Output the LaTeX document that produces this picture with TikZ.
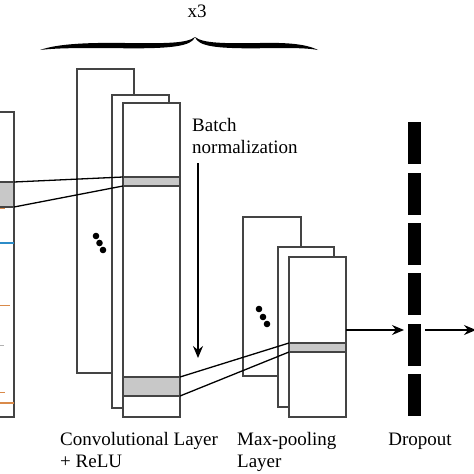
\documentclass[tikz,border=0pt]{standalone}
\usepackage{fontspec}
\setmainfont{Liberation Serif}
\usetikzlibrary{arrows.meta}
\definecolor{frame}{HTML}{444444}
\definecolor{band}{HTML}{C8C8C8}
\definecolor{sigorange}{HTML}{D98A4A}
\definecolor{sigblue}{HTML}{2C8CC8}
\tikzset{
  layerbox/.style={draw=frame, line width=1.4pt, fill=white, inner sep=0pt, outer sep=0pt, anchor=north west},
  bandbox/.style={draw=frame, line width=1.2pt, fill=band, inner sep=0pt, outer sep=0pt, anchor=north west},
  dropbar/.style={fill=black, draw=none, inner sep=0pt, outer sep=0pt, anchor=north west, minimum width=13pt, minimum height=42pt},
  link/.style={draw=black, line width=1.3pt},
  flow/.style={draw=black, line width=1.2pt, -{Stealth[length=12pt,width=10pt,inset=4pt]}},
  lbl/.style={font=\fontsize{19}{22}\selectfont, inner sep=0pt, align=left},
  dotmark/.style={fill=black, draw=none},
}
\begin{document}
\begin{tikzpicture}[x=1pt,y=-1pt]
\useasboundingbox (0,0) rectangle (474,474);
% input panel
\node[layerbox, minimum width=20pt, minimum height=305pt] (inp) at (-6,112) {};
\draw[sigorange, line width=1pt] (0,208) -- (5,208);
\draw[sigblue, line width=1.1pt] (0,243) -- (14,243);
\draw[sigorange, line width=1pt] (0,305) -- (10,305);
\draw[gray!60, line width=0.8pt] (0,345) -- (4,345);
\draw[sigorange, line width=1pt] (0,392) -- (5,392);
\draw[sigorange, line width=1.2pt] (0,403) -- (14,403);
\node[bandbox, minimum width=20pt, minimum height=25pt] (inband) at (-6,182) {};
% convolutional stack
\node[layerbox, minimum width=57pt, minimum height=304pt] (c1) at (77,69) {};
\node[layerbox, minimum width=57pt, minimum height=313pt] (c2) at (112,95) {};
\node[layerbox, minimum width=57pt, minimum height=314pt] (c3) at (123,103) {};
\node[bandbox, minimum width=57pt, minimum height=9pt] (cb1) at (123,177) {};
\node[bandbox, minimum width=57pt, minimum height=19pt] (cb2) at (123,377) {};
\fill[dotmark] (96,236) circle (3.3);
\fill[dotmark] (99.5,243) circle (3.3);
\fill[dotmark] (103,250) circle (3.3);
% max-pooling stack
\node[layerbox, minimum width=58pt, minimum height=159pt] (p1) at (243,217) {};
\node[layerbox, minimum width=56pt, minimum height=160pt] (p2) at (278,247) {};
\node[layerbox, minimum width=57pt, minimum height=160pt] (p3) at (289,257) {};
\node[bandbox, minimum width=57pt, minimum height=9pt] (pb) at (289,343) {};
\fill[dotmark] (259,309) circle (3.3);
\fill[dotmark] (263,317) circle (3.3);
\fill[dotmark] (267,324) circle (3.3);
% links
\draw[link] (inband.north east) -- (cb1.north west);
\draw[link] (inband.south east) -- (cb1.south west);
\draw[link] (cb2.north east) -- (pb.north west);
\draw[link] (cb2.south east) -- (pb.south west);
% dropout
\node[dropbar] (d1) at (408,122) {};
\node[dropbar] (d2) at (408,173) {};
\node[dropbar] (d3) at (408,223) {};
\node[dropbar] (d4) at (408,273) {};
\node[dropbar] (d5) at (408,324) {};
\node[dropbar] (d6) at (408,374) {};
\coordinate (pout) at (346,330);
\coordinate (din) at (404,330);
\coordinate (dout) at (425,330);
\coordinate (fend) at (476,330);
\draw[flow] (pout) -- (din);
\draw[flow] (dout) -- (fend);
% batch normalization
\node[lbl, anchor=north west] (bn) at (192,118) {Batch\\normalization};
\coordinate (bnA) at (198,163);
\coordinate (bnB) at (198,358);
\draw[flow] (bnA) -- (bnB);
% brace
\fill[black] (40,50) .. controls (58,43.5) and (90,42.5) .. (125,43)
  .. controls (165,43.5) and (187,43.5) .. (195,37)
  .. controls (192,46) and (172,48.5) .. (130,48.3)
  .. controls (90,48) and (60,47.5) .. (40,50) -- cycle;
\fill[black] (318,50) .. controls (305,43.5) and (285,42.5) .. (260,43)
  .. controls (225,43.5) and (203,43.5) .. (195,37)
  .. controls (198,46) and (215,48.5) .. (255,48.3)
  .. controls (285,48) and (305,47.5) .. (318,50) -- cycle;
\node[lbl] (rep) at (197,11) {x3};
% labels
\node[lbl, anchor=north west] (convlbl) at (60,432) {Convolutional Layer\\+ ReLU};
\node[lbl, anchor=north west] (poollbl) at (237,432) {Max-pooling\\Layer};
\node[lbl] (droplbl) at (420,441) {Dropout};
\end{tikzpicture}
\end{document}
